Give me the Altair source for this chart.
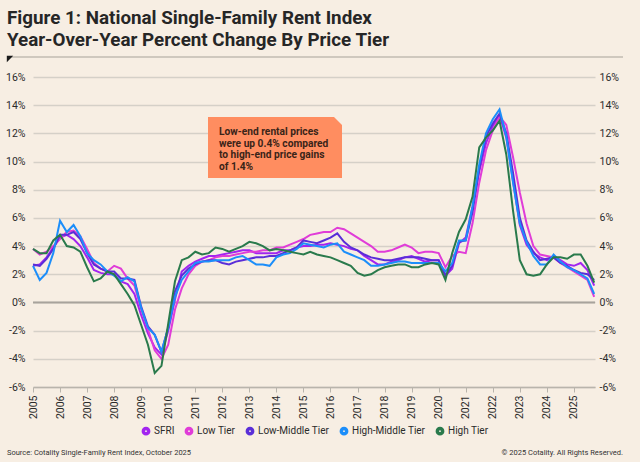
import altair as alt
import pandas as pd

# ---------------- data (quarterly readings, Jan/Apr/Jul/Oct) ----------------
years = list(range(2005, 2026))
quarters = [y + q for y in years for q in (0.0, 0.25, 0.5, 0.75)]

sfri = [
    2.6, 2.7, 3.2, 3.9,   4.6, 4.8, 4.5, 4.0,   3.2, 2.3, 2.1, 2.0,   2.0, 1.5, 1.3, 0.6,
    -0.9, -2.2, -3.2, -3.7,   -2.0, 0.2, 2.2, 2.6,   2.9, 3.1, 3.3, 3.3,   3.4, 3.5, 3.6, 3.7,
    3.7, 3.5, 3.5, 3.5,   3.5, 3.7, 3.7, 3.9,   4.0, 4.0, 4.1, 4.1,   4.2, 4.1, 4.0, 3.8,
    3.7, 3.3, 3.0, 2.7,   2.7, 2.9, 3.0, 3.2,   3.3, 3.1, 2.9, 3.0,   3.0, 1.9, 2.4, 4.2,
    4.6, 6.8, 9.3, 11.3,   12.5, 13.3, 11.7, 8.6,   5.5, 4.1, 3.5, 3.2,   3.0, 3.3, 3.0, 2.7,
    2.6, 2.8, 2.3, 1.2,
]
low_tier = [
    3.8, 3.4, 3.6, 4.0,   4.5, 5.0, 5.1, 4.7,   3.8, 2.8, 2.4, 2.2,   2.6, 2.4, 1.7, 1.2,
    -0.5, -1.9, -3.4, -4.0,   -3.0, -0.5, 1.0, 2.0,   2.6, 2.9, 3.0, 3.2,   3.3, 3.3, 3.4, 3.5,
    3.6, 3.6, 3.7, 3.7,   3.9, 3.9, 4.1, 4.3,   4.5, 4.8, 4.9, 5.0,   5.0, 5.3, 5.2, 4.9,
    4.6, 4.3, 4.0, 3.6,   3.6, 3.7, 3.9, 4.1,   3.9, 3.5, 3.6, 3.6,   3.5, 2.5, 3.3, 3.6,
    3.5, 5.6, 8.5, 10.8,   12.2, 13.2, 12.6, 10.3,   7.8, 5.6, 4.0, 3.4,   3.3, 3.2, 2.8, 2.5,
    2.2, 1.9, 1.6, 0.4,
]
low_middle = [
    2.7, 2.6, 3.1, 3.8,   4.8, 4.8, 5.0, 4.5,   3.5, 2.7, 2.4, 2.2,   2.2, 1.7, 1.7, 1.6,
    -0.3, -1.7, -2.3, -3.5,   -1.8, 0.8, 1.9, 2.4,   2.7, 2.9, 3.0, 3.0,   2.8, 2.7, 2.9, 3.0,
    3.1, 3.2, 3.2, 3.3,   3.3, 3.5, 3.7, 3.9,   4.4, 4.3, 4.2, 4.4,   4.6, 4.9, 4.3, 3.9,
    3.7, 3.4, 3.2, 3.1,   3.0, 3.0, 3.1, 3.2,   3.2, 3.2, 3.1, 3.0,   3.0, 1.9, 2.6, 4.3,
    4.4, 6.4, 9.5, 11.8,   12.7, 13.4, 12.0, 9.2,   6.0, 4.4, 3.6, 3.0,   3.1, 3.2, 2.8, 2.6,
    2.3, 2.1, 2.0, 1.6,
]
high_middle = [
    2.6, 1.6, 2.1, 3.5,   5.8, 5.0, 5.5, 4.7,   3.5, 3.0, 2.7, 2.2,   1.9, 1.5, 1.8, 1.5,
    -0.4, -1.8, -2.3, -3.5,   -1.8, 0.4, 1.6, 2.2,   2.8, 2.9, 2.9, 3.0,   3.0, 3.0, 3.2, 3.3,
    3.0, 2.7, 2.7, 2.6,   3.2, 3.4, 3.5, 3.8,   4.2, 4.1, 4.0, 3.9,   4.1, 4.2, 3.6, 3.4,
    3.2, 3.0, 2.6, 2.6,   2.7, 2.8, 2.9, 2.9,   2.8, 2.8, 2.8, 2.8,   2.8, 2.2, 2.8, 4.4,
    4.4, 6.8, 9.8, 12.0,   13.0, 13.7, 11.8, 8.5,   5.6, 4.3, 3.3, 2.7,   2.7, 3.4, 2.9, 2.5,
    2.3, 2.0, 1.7, 0.6,
]
high_tier = [
    3.8, 3.5, 3.5, 4.4,   4.8, 4.0, 3.9, 3.6,   2.5, 1.5, 1.7, 2.2,   2.0, 1.3, 0.6, -0.2,
    -1.6, -3.0, -5.0, -4.5,   -1.5, 1.5, 3.0, 3.2,   3.6, 3.4, 3.5, 3.9,   3.8, 3.6, 3.8, 4.0,
    4.3, 4.2, 4.0, 3.7,   3.8, 3.7, 3.6, 3.5,   3.4, 3.6, 3.4, 3.3,   3.2, 3.0, 2.8, 2.6,
    2.1, 1.9, 2.0, 2.3,   2.5, 2.6, 2.7, 2.7,   2.5, 2.5, 2.7, 2.8,   2.7, 1.6, 3.5, 5.0,
    5.9, 7.5, 11.0, 11.7,   12.2, 12.9, 10.5, 6.5,   3.0, 2.0, 1.9, 2.0,   2.7, 3.2, 3.2, 3.1,
    3.4, 3.4, 2.6, 1.4,
]

series_names = ["SFRI", "Low Tier", "Low-Middle Tier", "High-Middle Tier", "High Tier"]
series_colors = ["#A224F0", "#E03CD8", "#5A2ED8", "#1C8EFA", "#2A7A4C"]
series_values = [sfri, low_tier, low_middle, high_middle, high_tier]

y_ticks = list(range(-6, 17, 2))
x_ticks = years

title_lines = ["Figure 1: National Single-Family Rent Index",
               "Year-Over-Year Percent Change By Price Tier"]
note_text = "Low-end rental prices\nwere up 0.4% compared\nto high-end price gains\nof 1.4%"
source_text = "Source: Cotality Single-Family Rent Index, October 2025"
copyright_text = "\u00a9 2025 Cotality. All Rights Reserved."

# ---------------- build table ----------------
rows = []
for name, vals in zip(series_names, series_values):
    for t, v in zip(quarters, vals):
        rows.append({"t": t, "value": v, "series": name})
df = pd.DataFrame(rows)

BG = "#F7EEE3"
GRID = "#D5D0C8"
TXT = "#2B2B2B"
FONT = "Roboto"

W, H = 562, 310
PAD_L, PAD_T = 33, 77

x_scale = alt.Scale(domain=[2005, 2025.78], nice=False, zero=False)
x_axis = alt.Axis(values=x_ticks, format="d", labelAngle=270, grid=False, title=None,
                  domainColor="#B9B4AC", domainWidth=1.5, tickColor="#B9B4AC",
                  tickSize=5, labelFontSize=10.5, labelColor=TXT, labelFont=FONT,
                  labelPadding=3, labelFlush=False, labelOverlap=False)
y_scale = alt.Scale(domain=[-6, 16], nice=False, zero=False)
y_axis_left = alt.Axis(values=y_ticks, labelExpr="datum.value + '%'", grid=True,
                       gridColor=GRID, gridWidth=1.3, ticks=False, domain=False,
                       title=None, labelFontSize=10.5, labelColor=TXT, labelFont=FONT,
                       labelPadding=8, labelOverlap=False)

lines = alt.Chart(df).mark_line(strokeWidth=2, interpolate="linear").encode(
    x=alt.X("t:Q", scale=x_scale, axis=x_axis),
    y=alt.Y("value:Q", scale=y_scale, axis=y_axis_left),
    color=alt.Color("series:N", sort=series_names,
                    scale=alt.Scale(domain=series_names, range=series_colors),
                    legend=alt.Legend(title=None, orient="none", direction="horizontal",
                                      legendX=108, legendY=349, symbolType="circle",
                                      symbolSize=28, symbolStrokeWidth=3.5, symbolOpacity=1,
                                      labelFontSize=10, labelFont=FONT, labelColor=TXT,
                                      columnPadding=4, labelOffset=3)),
    detail="series:N",
)

zero_df = pd.DataFrame({"value": [0]})
zero_rule = alt.Chart(zero_df).mark_rule(color="#A8A39C", strokeWidth=2).encode(
    y=alt.Y("value:Q", scale=y_scale, axis=y_axis_left))

left = alt.layer(zero_rule, lines)

right = alt.Chart(df).mark_line(opacity=0).encode(
    x=alt.X("t:Q", scale=x_scale, axis=x_axis),
    y=alt.Y("value:Q", scale=y_scale,
            axis=alt.Axis(orient="right", values=y_ticks, labelExpr="datum.value + '%'",
                          grid=False, ticks=False, domain=False, title=None,
                          labelFontSize=10.5, labelColor=TXT, labelFont=FONT, labelPadding=4,
                          labelOverlap=False)),
    detail="series:N",
)

# annotation box
box = alt.Chart(pd.DataFrame({"a": [1]})).mark_rect(color="#FF8D60").encode(
    x=alt.value(175), x2=alt.value(309), y=alt.value(40), y2=alt.value(101))
fold = alt.Chart(pd.DataFrame({"a": [1]})).mark_point(
    shape="M -1 -1 L 1 -1 L 1 1 Z", filled=True, color=BG, opacity=1, size=64,
    strokeWidth=0).encode(x=alt.value(305), y=alt.value(44))
note = alt.Chart(pd.DataFrame({"s": [note_text]})).mark_text(
    align="left", baseline="middle", lineBreak="\n", lineHeight=11.5, fontSize=10.2,
    fontWeight="bold", font=FONT, color="#3A2418").encode(
    x=alt.value(186), y=alt.value(55), text="s:N")

# titles / footer
title = alt.Chart(pd.DataFrame({"s": ["\n".join(title_lines)]})).mark_text(
    align="left", baseline="alphabetic", lineBreak="\n", lineHeight=22, fontSize=18.8,
    fontWeight="bold", font=FONT, color="#262626").encode(
    x=alt.value(-26), y=alt.value(-53), text="s:N")
title_rule = alt.Chart(pd.DataFrame({"a": [1]})).mark_rule(color="#CFC8BE", strokeWidth=2).encode(
    x=alt.value(-26), x2=alt.value(590), y=alt.value(-20))
wedge = alt.Chart(pd.DataFrame({"a": [1]})).mark_point(
    shape="M -1 -1 L 1 -1 L -1 1 Z", filled=True, color="#1A1A1A", opacity=1, size=40,
    strokeWidth=0).encode(x=alt.value(-23), y=alt.value(-18))
source = alt.Chart(pd.DataFrame({"s": [source_text]})).mark_text(
    align="left", baseline="alphabetic", fontSize=7.5, font=FONT, color="#333333").encode(
    x=alt.value(-26), y=alt.value(378), text="s:N")
copy = alt.Chart(pd.DataFrame({"s": [copyright_text]})).mark_text(
    align="right", baseline="alphabetic", fontSize=7.5, font=FONT, color="#333333").encode(
    x=alt.value(590), y=alt.value(378), text="s:N")

chart = alt.layer(
    left, right, box, fold, note, title, title_rule, wedge, source, copy
).resolve_scale(y="independent").properties(
    width=W, height=H,
    background=BG,
    padding={"left": PAD_L, "top": PAD_T, "right": 640 - PAD_L - W, "bottom": 462 - PAD_T - H},
    autosize=alt.AutoSizeParams(type="none"),
).configure_view(stroke=None)

chart.save("out.html", embed_options={"renderer": "svg", "actions": False})
